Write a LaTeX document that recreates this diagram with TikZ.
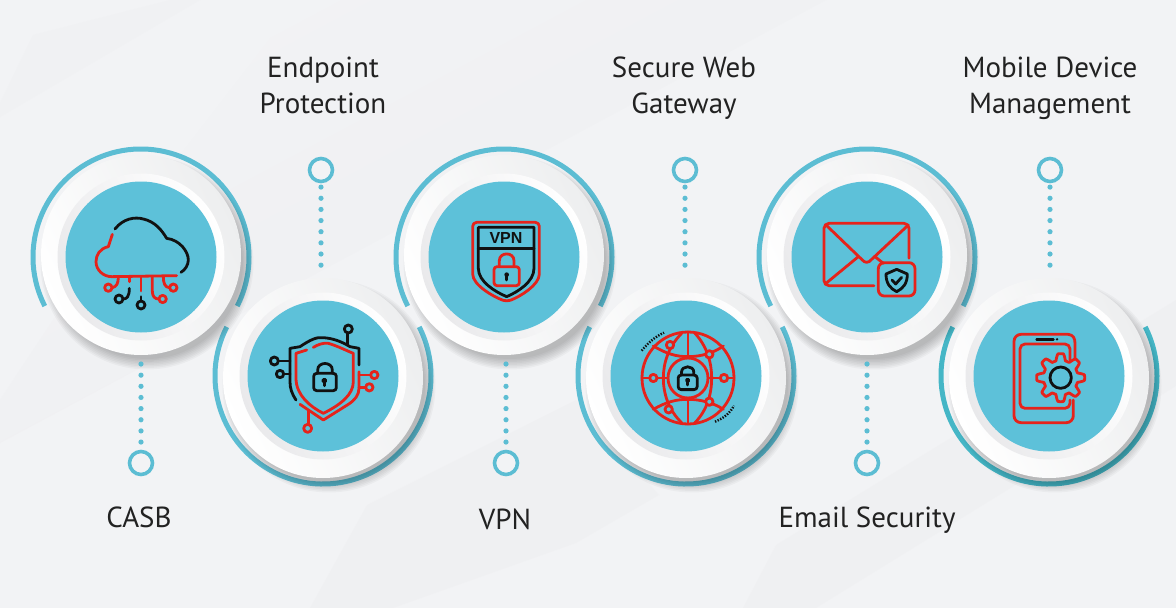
\documentclass[tikz,border=0pt]{standalone}
\usepackage{fontspec}
\setmainfont{PT Sans}
\newfontfamily\vpnfont{Liberation Sans}
\definecolor{bgbase}{HTML}{F2F3F5}
\definecolor{bgband}{HTML}{EEEEF0}
\definecolor{ringblue}{HTML}{5CBDD3}
\definecolor{ringteal}{HTML}{45B6C6}
\definecolor{discblue}{HTML}{5DC1D9}
\definecolor{iconred}{HTML}{E5231B}
\definecolor{iconblack}{HTML}{111111}
\definecolor{labelink}{HTML}{222222}
\definecolor{discedge}{HTML}{EDEEEF}
\definecolor{discinner}{HTML}{E9E9EB}
\tikzset{
  px/.style={x=1pt,y=-1pt},
  icon/.style 2 args={shift={(#1,#2)},x=.33333pt,y=-.33333pt},
  rd/.style={draw=iconred,line width=2.8pt,line cap=round,line join=round},
  bk/.style={draw=iconblack,line width=2.8pt,line cap=round,line join=round},
  outerdisc/.style={circle,minimum size=200pt,inner sep=0pt,outer sep=0pt,left color=white,right color=discedge,shading angle=115},
  innerdisc/.style={circle,minimum size=167pt,inner sep=0pt,outer sep=0pt,left color=discinner,right color=white,shading angle=115},
  bluedisc/.style={circle,minimum size=151pt,inner sep=0pt,outer sep=0pt,fill=discblue},
  endcircle/.style={circle,draw=ringblue,line width=3.6pt,fill=bgbase,minimum size=23pt,inner sep=0pt,outer sep=0pt},
  ringarc/.style={line width=5pt},
  dots/.style={draw=ringblue,line width=5.2pt,line cap=round,dash pattern=on 0pt off 11.15pt},
  lab/.style={text=labelink,align=center,inner sep=0pt,font=\fontsize{29}{36}\selectfont},
}
\newcommand{\discshadow}[2]{%
  \foreach \r in {96,97.5,...,107}{\fill[black,opacity=.03] (#1+6,#2+8) circle[radius=\r];}}
\newcommand{\topring}[3]{\draw[ringarc,draw=#3] ([shift={(207:108 and -108)}]#1,#2) arc[start angle=-207,end angle=27,radius=108];}
\newcommand{\botring}[3]{\draw[ringarc,draw=#3] ([shift={(153:108 and -108)}]#1,#2) arc[start angle=-153,end angle=-387,radius=108];}
\newcommand{\padlock}[4]{% centre x, y, scale, style
  \begin{scope}[shift={(#1,#2)},x=#3*.33333pt,y=-#3*.33333pt]
  \draw[#4,rounded corners=3pt] (-34,-26) rectangle (34,26);
  \draw[#4] (-22,-26) -- (-22,-36) .. controls (-22,-62) and (22,-62) .. (22,-36) -- (22,-26);
  \end{scope}}
\begin{document}
\begin{tikzpicture}[px]
\useasboundingbox (0,0) rectangle (1176,608);
\fill[bgbase] (0,0) rectangle (1176,608);
% background bands
\fill[bgband,opacity=.35] (0,117) -- (200,0) -- (170,0) -- (33,35) -- (0,103) -- cycle;
\shade[top color=bgbase,bottom color=bgband,shading angle=28] (0,443) -- (826,0) -- (300,0) -- (53,320) -- (0,400) -- cycle;
\fill[bgband,opacity=.5] (310,608) -- (367,505) -- (576,400) -- (659,495) -- (576,543) -- (393,608) -- cycle;
\fill[bgband,opacity=.5] (743,608) -- (776,545) -- (1176,300) -- (1176,386) -- (816,608) -- cycle;
% rings
\topring{141}{257}{ringblue}\topring{504}{257}{ringblue}\topring{867}{257}{ringblue}
\botring{323}{376}{ringblue}\botring{686}{376}{ringblue}\botring{1049}{376}{ringteal}
% shadows
\discshadow{141}{255}\discshadow{504}{255}\discshadow{867}{255}
\discshadow{323}{378}\discshadow{686}{378}\discshadow{1049}{378}
% discs
\foreach \n/\x/\y/\d in {a/141/257/-2,c/504/257/-2,e/867/257/-2,b/323/376/2,d/686/376/2,f/1049/376/2}{
  \node[outerdisc] (disc\n) at (\x,\y+\d) {};
  \node[innerdisc] (inner\n) at (\x,\y) {};
  \node[bluedisc] (blue\n) at (\x,\y) {};
}
% end circles
\node[endcircle] (enda) at (141,463) {};
\node[endcircle] (endb) at (321,170) {};
\node[endcircle] (endc) at (506,463) {};
\node[endcircle] (endd) at (685,170) {};
\node[endcircle] (ende) at (867,463) {};
\node[endcircle] (endf) at (1050,170) {};
% dotted connectors
\draw[dots,shorten <=9pt,shorten >=5.6pt] (enda.north |- disca.south) -- (enda.north);
\draw[dots,shorten <=5.6pt,shorten >=11pt] (endb.south) -- (endb.south |- discb.north);
\draw[dots,shorten <=9pt,shorten >=5.6pt] (endc.north |- discc.south) -- (endc.north);
\draw[dots,shorten <=5.6pt,shorten >=11pt] (endd.south) -- (endd.south |- discd.north);
\draw[dots,shorten <=9pt,shorten >=5.6pt] (ende.north |- disce.south) -- (ende.north);
\draw[dots,shorten <=5.6pt,shorten >=11pt] (endf.south) -- (endf.south |- discf.north);
% labels
\node[lab] (labela) at (139,519.8) {\strut CASB\strut};
\node[lab] (labelb) at (323,87.8) {\strut Endpoint\\Protection\strut};
\node[lab] (labelc) at (505,521.8) {\strut VPN\strut};
\node[lab] (labeld) at (684,87.8) {\strut Secure Web\\Gateway\strut};
\node[lab] (labele) at (867,519.8) {\strut Email Security\strut};
\node[lab] (labelf) at (1050,87.8) {\strut Mobile Device\\Management\strut};
% cloud
\begin{scope}[icon={80}{205}]
\draw[bk] (105,72) .. controls (130,40) and (165,35) .. (190,42) .. controls (225,50) and (245,75) .. (260,100) .. controls (300,105) and (325,140) .. (325,165) .. controls (325,180) and (315,195) .. (303,202);
\draw[rd] (97,88) -- (85,125) .. controls (60,130) and (48,150) .. (48,170) .. controls (48,195) and (70,215) .. (95,215) -- (290,212);
\draw[rd] (85,248) circle[radius=11];
\draw[rd] (97,248) .. controls (110,245) and (115,235) .. (115,215);
\draw[rd] (148,215) -- (148,230);
\draw[bk] (148,250) .. controls (148,275) and (140,282) .. (130,282);
\draw[bk] (117,282) circle[radius=12];
\draw[rd] (183,215) -- (183,258);
\draw[bk] (183,275) -- (183,288);
\draw[bk] (183,300) circle[radius=12];
\draw[rd] (217,215) -- (217,258) .. controls (217,275) and (225,282) .. (236,282);
\draw[rd] (248,282) circle[radius=11];
\draw[rd] (250,215) .. controls (250,235) and (255,247) .. (268,248);
\draw[rd] (280,248) circle[radius=11];
\end{scope}
% shield
\begin{scope}[icon={260}{315}]
\draw[bk] (108,255) .. controls (95,235) and (90,220) .. (90,200) -- (90,100) -- (120,95) .. controls (150,75) and (170,65) .. (190,68) .. controls (220,70) and (245,80) .. (270,95) -- (297,100) -- (297,150);
\draw[bk] (262,55) -- (262,90);
\draw[bk] (265,42) circle[radius=12];
\draw[bk] (43,138) circle[radius=12];
\draw[bk] (55,138) -- (90,138);
\draw[bk] (60,177) circle[radius=11];
\draw[bk] (71,177) -- (90,177);
\draw[rd] (160,97) .. controls (175,88) and (190,83) .. (205,85) .. controls (230,92) and (255,105) .. (280,115) -- (280,200) .. controls (280,240) and (240,270) .. (190,295) .. controls (150,275) and (108,240) .. (108,190) -- (108,115) -- (140,105);
\draw[rd] (120,268) -- (190,315) -- (265,268) .. controls (285,255) and (297,240) .. (297,220) -- (297,170);
\draw[rd] (297,180) -- (331,180);
\draw[rd] (343,180) circle[radius=11];
\draw[rd] (297,217) -- (316,217);
\draw[rd] (328,217) circle[radius=11];
\draw[rd] (145,288) -- (145,328);
\draw[rd] (143,340) circle[radius=12];
\padlock{195}{201}{1}{bk}
\draw[bk] (193,197) circle[radius=5];
\draw[bk] (193,203) -- (193,212);
\end{scope}
% vpn
\begin{scope}[icon={420}{190}]
\draw[rd,rounded corners=4pt] (158,97) -- (358,97) -- (358,240) .. controls (358,285) and (300,320) .. (260,335) .. controls (220,320) and (158,285) .. (158,240) -- cycle;
\draw[bk] (175,112) -- (342,112) -- (342,235) .. controls (342,275) and (295,305) .. (260,320) .. controls (225,305) and (175,275) .. (175,235) -- cycle;
\draw[bk] (175,175) -- (342,175);
\node[inner sep=0pt,text=iconblack,font=\vpnfont\bfseries\fontsize{16}{16}\selectfont] (vpnmark) at (258,145) {VPN};
\draw[rd,rounded corners=3pt] (222,230) rectangle (298,287);
\draw[rd] (238,230) -- (238,212) .. controls (238,185) and (282,185) .. (282,212) -- (282,230);
\fill[iconblack] (260,254) circle[radius=7];
\draw[bk] (260,254) -- (260,270);
\end{scope}
% globe
\begin{scope}[icon={620}{310}]
\draw[rd] (204,204) circle[radius=138];
\draw[rd] (204,204) circle[radius=60];
\draw[rd] (204,66) -- (204,144);
\draw[rd] (204,264) -- (204,342);
\draw[rd] (66,204) -- (89,204);
\draw[rd] (111,204) -- (144,204);
\draw[rd] (264,204) -- (301,204);
\draw[rd] (323,204) -- (342,204);
\draw[rd] (100,204) circle[radius=11];
\draw[rd] (312,204) circle[radius=11];
\draw[rd] (100,108) .. controls (140,132) and (170,140) .. (204,140) .. controls (240,140) and (280,130) .. (310,108);
\draw[rd] (100,298) .. controls (140,275) and (170,268) .. (204,268) .. controls (240,268) and (280,278) .. (310,298);
\draw[rd] (185,70) .. controls (145,110) and (130,160) .. (130,204) .. controls (130,250) and (145,300) .. (185,338);
\draw[rd] (225,70) .. controls (262,110) and (275,160) .. (275,204) .. controls (275,250) and (262,300) .. (225,338);
\foreach \cx/\cy in {150/105,268/133,268/275,146/298}{\filldraw[rd,fill=discblue] (\cx,\cy) circle[radius=11];}
\draw[iconblack,line width=2.4pt,dash pattern=on 1.4pt off 1.4pt] (65,122) .. controls (85,98) and (105,80) .. (132,68);
\draw[iconblack,line width=2.4pt,dash pattern=on 1.4pt off 1.4pt] (285,335) .. controls (310,325) and (330,310) .. (342,287);
\padlock{203}{217}{.84}{bk}
\draw[bk] (203,211) circle[radius=4];
\draw[bk] (203,215) -- (203,225);
\end{scope}
% envelope
\begin{scope}[icon={800}{200}]
\draw[rd,rounded corners=5pt] (222,257) -- (72,257) -- (72,70) -- (327,70) -- (327,175);
\draw[rd] (78,75) -- (185,178) .. controls (195,190) and (205,190) .. (215,178) -- (325,75);
\draw[rd] (78,250) -- (175,170);
\draw[rd] (225,170) -- (250,190);
\draw[rd,rounded corners=6pt] (235,188) rectangle (345,288);
\draw[bk] (258,222) -- (290,208) -- (322,222) .. controls (322,250) and (310,265) .. (290,275) .. controls (270,265) and (258,250) .. (258,222) -- cycle;
\draw[bk] (276,240) -- (287,252) -- (305,232);
\end{scope}
% tablet
\begin{scope}[icon={990}{320}]
\draw[rd,rounded corners=7pt] (235,43) -- (72,43) -- (72,308) -- (250,308) -- (250,240);
\draw[rd] (235,43) .. controls (250,45) and (255,55) .. (255,70) -- (255,120);
\draw[rd,rounded corners=5pt] (240,120) -- (240,72) -- (90,72) -- (90,265) -- (240,265) -- (240,240);
\draw[bk] (140,58) -- (190,58);
\fill[iconblack] (201,58) circle[radius=4];
\filldraw[rd,fill=discblue,smooth] plot[domain=0:359,samples=180] ({212+(62+10*max(-1,min(1,1.7*cos(8*\x))))*cos(\x)},{173+(62+10*max(-1,min(1,1.7*cos(8*\x))))*sin(\x)}) -- cycle;
\draw[bk] (212,173) circle[radius=32];
\end{scope}
\end{tikzpicture}
\end{document}
